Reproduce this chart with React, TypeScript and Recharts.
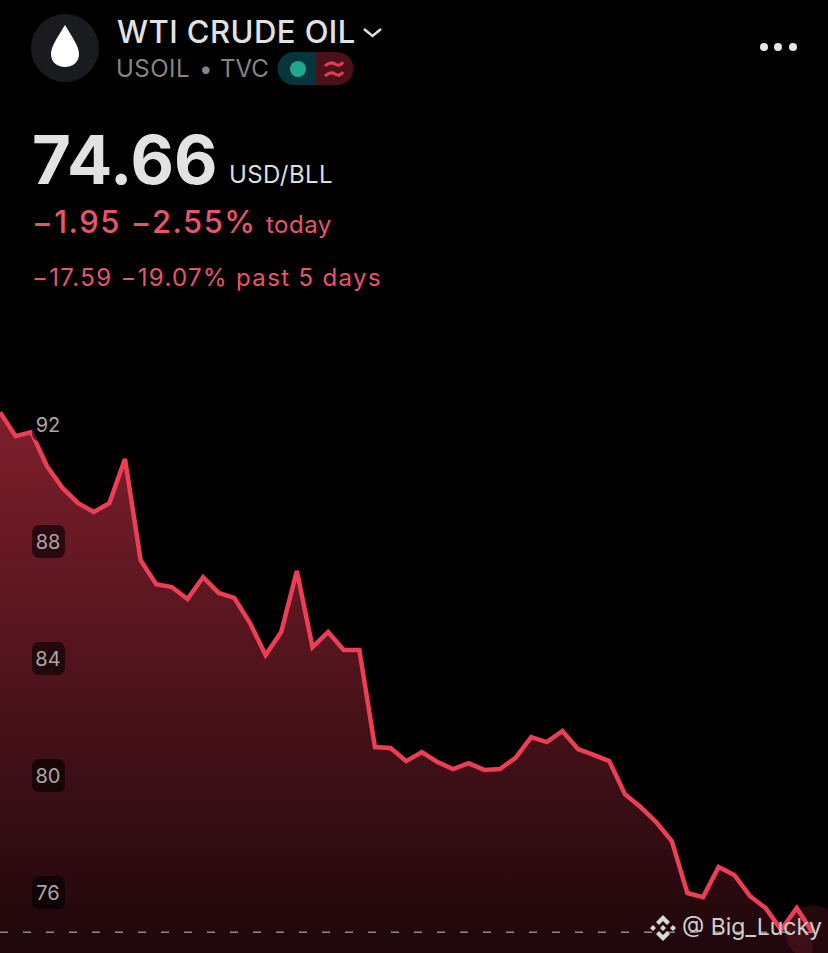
import { ComposedChart, Area, XAxis, YAxis, ReferenceLine, ReferenceDot } from "recharts";

const W = 828;
const H = 953;
const FONT = "Inter, 'Noto Sans', sans-serif";
const RED = "#ec3f56";
const TEXT_RED = "#e5566b";

// prices, one per step
const prices = [
  92.44, 91.62, 91.76, 90.6, 89.85, 89.33, 89.03, 89.33, 90.84, 87.38, 86.56, 86.46, 86.05, 86.8,
  86.26, 86.09, 85.23, 84.14, 84.92, 87.01, 84.41, 84.92, 84.31, 84.31, 80.99, 80.96, 80.51, 80.82,
  80.48, 80.24, 80.44, 80.21, 80.24, 80.62, 81.33, 81.16, 81.54, 80.92, 80.72, 80.51, 79.38, 78.94,
  78.43, 77.78, 76.0, 75.86, 76.89, 76.62, 75.9, 75.49, 74.74, 75.49, 74.66,
];
const yTicks = [76, 80, 84, 88, 92];
const lastPrice = 74.66;

const chartData = prices.map((price, i) => ({ i, price }));

function PriceTick({ y, payload }: any) {
  return (
    <g>
      <rect x={32} y={y - 17} width={33} height={33} rx={7} fill="#000" fillOpacity={0.6} />
      <text x={48} y={y + 7} textAnchor="middle" fontSize={20} fontFamily={FONT} fill="#aaa6a6">
        {payload.value}
      </text>
    </g>
  );
}

function Label({ x, y, size, color, weight, spacing, children }: any) {
  return (
    <div
      style={{
        position: "absolute",
        left: x,
        top: y,
        fontSize: size,
        color,
        fontWeight: weight ?? 400,
        fontFamily: FONT,
        letterSpacing: spacing ?? 0,
        lineHeight: 1,
        whiteSpace: "nowrap",
      }}
    >
      {children}
    </div>
  );
}

function Header() {
  return (
    <>
      <svg width={W} height={120} style={{ position: "absolute", left: 0, top: 0 }}>
        <circle cx={65} cy={48} r={34} fill="#1a1b1f" />
        <path d="M65 25 C72 37 79 46 79 54 C79 62 73 67 65 67 C57 67 51 62 51 54 C51 46 58 37 65 25 Z" fill="#fff" />
        <path d="M364 29 L372.5 36 L381 29" fill="none" stroke="#e2e2e2" strokeWidth={2.4} />
        <path d="M316 52 L294 52 A16.5 16.5 0 0 0 294 85 L316 85 Z" fill="#06363b" />
        <path d="M316 52 L337 52 A16.5 16.5 0 0 1 337 85 L316 85 Z" fill="#4a1119" />
        <circle cx={298} cy={69} r={8} fill="#1fa98c" />
        <path d="M325 66 Q330 61 335 64 T343 62 M325 76 Q330 71 335 74 T343 72" fill="none" stroke="#e63c52" strokeWidth={3} />
        <circle cx={764} cy={47} r={4} fill="#e6e6e6" />
        <circle cx={778} cy={47} r={4} fill="#e6e6e6" />
        <circle cx={793} cy={47} r={4} fill="#e6e6e6" />
      </svg>
      <Label x={117} y={16} size={31} color="#e2e2e2" weight={500} spacing={0.45}>WTI CRUDE OIL</Label>
      <Label x={116} y={57} size={24} color="#858585" spacing={0.5}>USOIL</Label>
      <Label x={199} y={57} size={24} color="#858585">•</Label>
      <Label x={220} y={57} size={24} color="#858585">TVC</Label>
      <Label x={32} y={126} size={67} color="#e2e2e2" weight={700}>74.66</Label>
      <Label x={229} y={163} size={24} color="#dedede" spacing={0.4}>USD/BLL</Label>
      <Label x={32} y={206} size={31} color={TEXT_RED} weight={500} spacing={1.5}>−1.95 −2.55%</Label>
      <Label x={266} y={213} size={24} color={TEXT_RED} spacing={0.5}>today</Label>
      <Label x={32} y={266} size={24} color={TEXT_RED} spacing={1.35}>−17.59 −19.07% past 5 days</Label>
    </>
  );
}

function Watermark() {
  return (
    <>
      <svg width={30} height={30} viewBox="0 0 30 30" style={{ position: "absolute", left: 648, top: 913 }}>
        <path
          d="M15 2 L22 9 L19 12 L15 8 L11 12 L8 9 Z M5 12 L8 15 L5 18 L2 15 Z M25 12 L28 15 L25 18 L22 15 Z M15 12 L18 15 L15 18 L12 15 Z M15 22 L19 18 L22 21 L15 28 L8 21 L11 18 Z"
          fill="#d8d8d8"
        />
      </svg>
      <Label x={682} y={916} size={23} color="#cfcfcf">@ Big_Lucky</Label>
    </>
  );
}

export default function App() {
  return (
    <div style={{ position: "absolute", left: 0, top: 0, width: W, height: H, background: "#000", overflow: "hidden" }}>
      <ComposedChart width={W} height={H} data={chartData} margin={{ top: 0, right: 0, bottom: 0, left: 0 }}>
        <defs>
          <linearGradient id="priceFill" x1="0" y1="0" x2="0" y2="1">
            <stop offset="0%" stopColor="#7e1f2c" />
            <stop offset="100%" stopColor="#1e070b" />
          </linearGradient>
        </defs>
        <XAxis dataKey="i" type="number" domain={[0, 53]} hide />
        <Area
          dataKey="price"
          type="linear"
          stroke={RED}
          strokeWidth={4.5}
          fill="url(#priceFill)"
          fillOpacity={1}
          dot={false}
          activeDot={false}
          isAnimationActive={false}
        />
        <ReferenceLine y={lastPrice} stroke="#8f8a8a" strokeWidth={1.5} strokeDasharray="8 15" />
        <ReferenceDot x={52} y={lastPrice} r={27} fill={RED} fillOpacity={0.15} stroke="none" />
        <YAxis
          type="number"
          domain={[73.95, 106.53]}
          ticks={yTicks}
          interval={0}
          allowDataOverflow
          mirror
          width={60}
          axisLine={false}
          tickLine={false}
          tick={(props: any) => <PriceTick {...props} />}
        />
      </ComposedChart>
      <Header />
      <Watermark />
    </div>
  );
}
